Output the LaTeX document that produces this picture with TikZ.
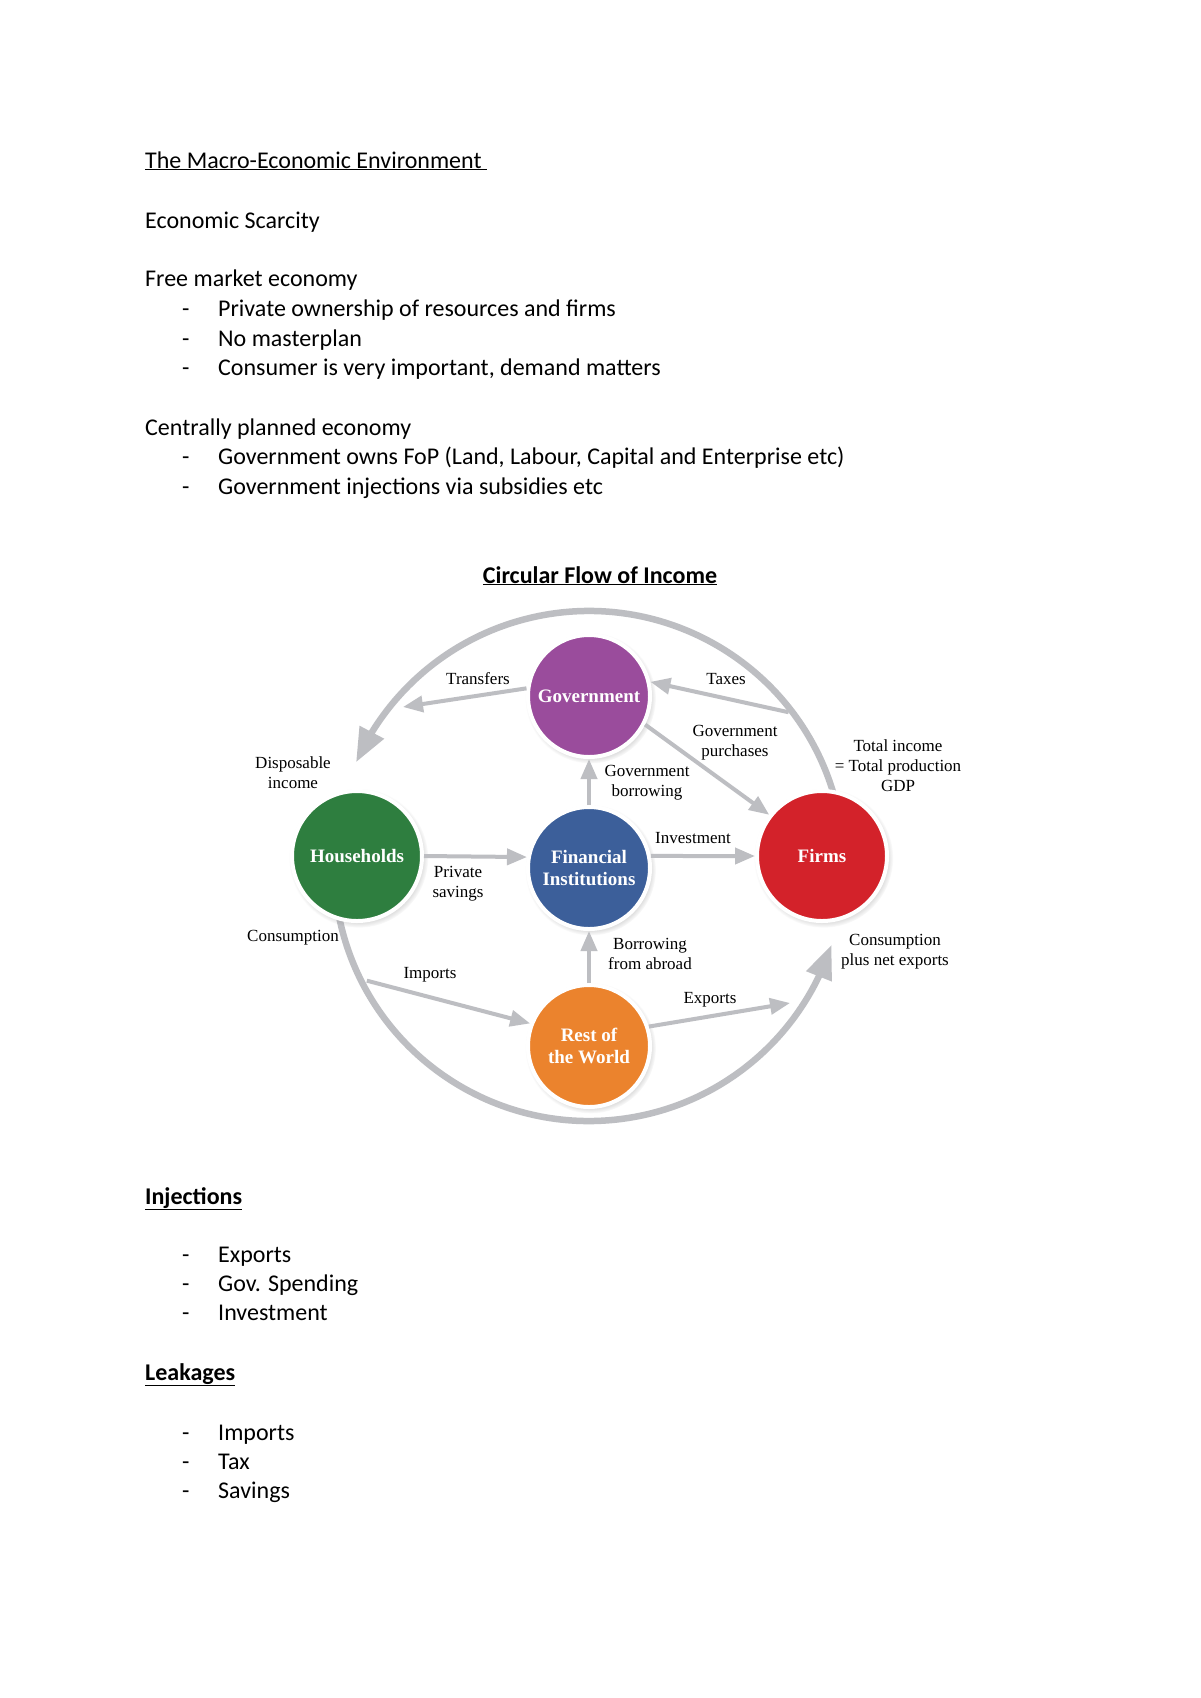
\documentclass[tikz,border=0pt]{standalone}
\usepackage{fontspec}
\setmainfont{Carlito}
\newfontfamily\diagfont{Liberation Serif}
\usetikzlibrary{arrows.meta,bending,shadows,backgrounds}
\definecolor{flowgray}{HTML}{BDBEC2}
\definecolor{govcol}{HTML}{9A4C9C}
\definecolor{hhcol}{HTML}{2E7E3F}
\definecolor{fincol}{HTML}{3C5F9A}
\definecolor{firmcol}{HTML}{D3222A}
\definecolor{rowcol}{HTML}{EB832D}
\begin{document}
\begin{tikzpicture}[x=1pt,y=-1pt,
  body/.style={anchor=base west,inner sep=0pt,font=\fontsize{24}{29}\selectfont},
  dashmark/.style={anchor=base west,inner sep=0pt,font=\fontsize{24}{29}\selectfont},
  agent/.style={circle,draw=white,line width=4pt,inner sep=0pt,
    font=\diagfont\bfseries\fontsize{19}{22}\selectfont,text=white,align=center,
    circular drop shadow={shadow xshift=1.5pt,shadow yshift=-2pt,shadow scale=1.07,opacity=.45}},
  small/.style={minimum size=122pt},
  large/.style={minimum size=130pt},
  lbl/.style={inner sep=0pt,font=\diagfont\fontsize{17}{20}\selectfont,align=center},
  flow/.style={draw=flowgray,line width=4pt,-{Triangle[length=20pt,width=16pt]}},
  bigflow/.style={draw=flowgray,line width=6.5pt,-{Triangle[length=34pt,width=26pt]}}
]
\useasboundingbox (0,0) rectangle (1200,1698);

% ---------- text ----------
\node[body] (t1) at (145,168) {\underline{The Macro-Economic Environment\ }};
\node[body] (t2) at (145,228) {Economic Scarcity};
\node[body] (t3) at (145,286) {Free market economy};
\node[dashmark] (d1) at (182,316) {-};
\node[body] (b1) at (218,316) {Private ownership of resources and firms};
\node[dashmark] (d2) at (182,346) {-};
\node[body] (b2) at (218,346) {No masterplan};
\node[dashmark] (d3) at (182,375) {-};
\node[body] (b3) at (218,375) {Consumer is very important, demand matters};
\node[body] (t4) at (145,435) {Centrally planned economy};
\node[dashmark] (d4) at (182,464) {-};
\node[body] (b4) at (218,464) {Government owns FoP (Land, Labour, Capital and Enterprise etc)};
\node[dashmark] (d5) at (182,494) {-};
\node[body] (b5) at (218,494) {Government injections via subsidies etc};

\node[body,anchor=base] (t5) at (600,583) {\bfseries\underline{Circular Flow of Income}};

\node[body] (t6) at (145,1204) {\bfseries\underline{Injections}};
\node[dashmark] (d6) at (182,1262) {-};
\node[body] (b6) at (218,1262) {Exports};
\node[dashmark] (d7) at (182,1291) {-};
\node[body] (b7) at (218,1291) {Gov. Spending};
\node[dashmark] (d8) at (182,1320) {-};
\node[body] (b8) at (218,1320) {Investment};
\node[body] (t7) at (145,1380) {\bfseries\underline{Leakages}};
\node[dashmark] (d9) at (182,1440) {-};
\node[body] (b9) at (218,1440) {Imports};
\node[dashmark] (d10) at (182,1469) {-};
\node[body] (b10) at (218,1469) {Tax};
\node[dashmark] (d11) at (182,1498) {-};
\node[body] (b11) at (218,1498) {Savings};

% ---------- diagram ----------
\coordinate (ctr) at (589,866);
\node[agent,small,fill=govcol] (gov) at (589,696) {Government};
\node[agent,large,fill=hhcol] (hh) at (357,856) {Households};
\node[agent,small,fill=fincol] (fin) at (589,868) {Financial\\Institutions};
\node[agent,large,fill=firmcol] (firm) at (822,856) {Firms};
\node[agent,small,fill=rowcol] (row) at (589,1046) {Rest of\\the World};

\coordinate (transtip) at (403,707);
\coordinate (taxstart) at ([shift={(-37.6:252)}]ctr);
\coordinate (impstart) at ([shift={(152.7:250)}]ctr);
\coordinate (exptip) at (790,1003);

\begin{scope}[on background layer]
  \fill[white] (0,0) rectangle (1200,1698);
  \draw[bigflow] ([shift={(-15:255)}]ctr) arc[start angle=-15,end angle=-156,radius=255];
  \draw[bigflow] ([shift={(170:255)}]ctr) arc[start angle=170,end angle=18,radius=255];
\end{scope}

\draw[flow] (gov.173) -- (transtip);
\draw[flow] (taxstart) -- (gov.13);
\draw[flow] (gov.-27) -- (firm.142);
\draw[flow] (fin) -- (gov);
\draw[flow] (hh.east) -- (fin.170);
\draw[flow] (fin.11) -- (firm.180);
\draw[flow] (row) -- (fin);
\draw[flow] (impstart) -- (row.159);
\draw[flow] (row.18) -- (exptip);

\node[lbl] (l1) at (478,679) {Transfers};
\node[lbl] (l2) at (726,679) {Taxes};
\node[lbl] (l3) at (735,743) {Government\\purchases};
\node[lbl] (l4) at (898,766) {Total income\\= Total production\\GDP};
\node[lbl] (l5) at (647,783) {Government\\borrowing};
\node[lbl] (l6) at (293,773) {Disposable\\income};
\node[lbl] (l7) at (458,884) {Private\\savings};
\node[lbl] (l8) at (693,838) {Investment};
\node[lbl] (l9) at (293,938) {Consumption};
\node[lbl] (l10) at (430,975) {Imports};
\node[lbl] (l11) at (650,954) {Borrowing\\from abroad};
\node[lbl] (l12) at (895,952) {Consumption\\plus net exports};
\node[lbl] (l13) at (710,1000) {Exports};
\end{tikzpicture}
\end{document}
